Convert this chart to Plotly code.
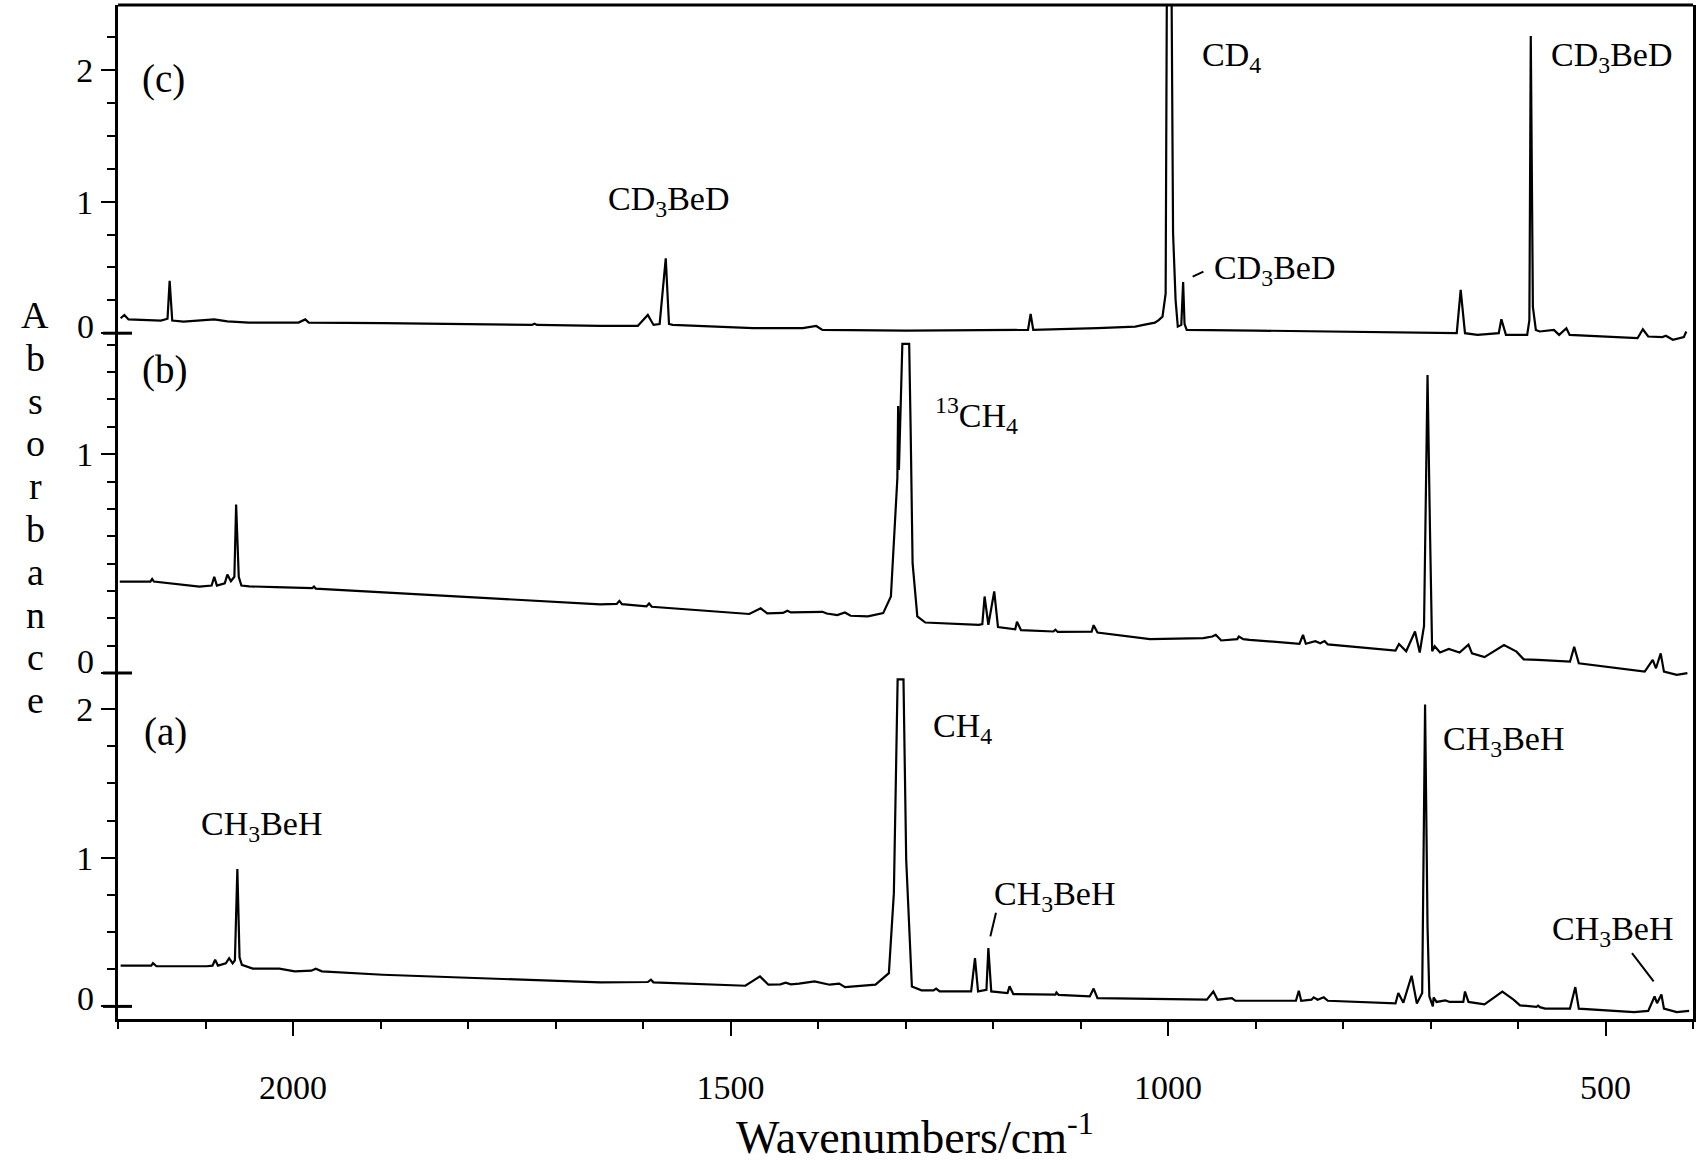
import plotly.graph_objects as go

# ---------------- data ----------------
# Spectrum (c)  CD3-containing sample
wn_c = [2197, 2192.7, 2188, 2151, 2143.4, 2141, 2138, 2125, 2090, 2075, 2050.5, 1993.7, 1986, 1982,
        1897.5, 1727, 1724, 1721, 1649, 1606, 1594.5, 1588, 1581, 1574, 1570.3, 1566, 1474, 1417.4,
        1402, 1395, 1299, 1185, 1160, 1157, 1154, 1080.6, 1037.4, 1028, 1015, 1010.6, 1006.3,
        1002.7, 1001.2, 996.1, 994.2, 991.3, 988.8, 984.8, 982.7, 981.1, 978.6, 900, 800, 695,
        670, 665.5, 660.6, 646.4, 622, 619, 613.8, 589.5, 587, 585.4, 583, 579.6, 575.2, 559, 553,
        544.7, 541, 463.4, 457.3, 451.2, 435, 431, 423, 410.5, 407.7]
abs_c = [0.114, 0.139, 0.105, 0.096, 0.11, 0.398, 0.096, 0.088, 0.105, 0.09, 0.081, 0.081, 0.105, 0.081,
         0.076, 0.063, 0.072, 0.063, 0.055, 0.055, 0.139, 0.063, 0.07, 0.57, 0.07, 0.063, 0.038, 0.038,
         0.055, 0.025, 0.02, 0.025, 0.025, 0.147, 0.025, 0.038, 0.05, 0.063, 0.08, 0.1, 0.126,
         0.3, 2.8, 2.8, 0.76, 0.25, 0.05, 0.063, 0.39, 0.07, 0.025, 0.02, 0.01, 0.0,
         0.0, 0.33, 0.0, -0.013, 0.0, 0.106, -0.013, -0.013, 0.1, 2.26, 0.2, 0.025, 0.013, 0.025, -0.013,
         0.038, -0.013, -0.038, 0.03, -0.025, -0.03, -0.02, -0.05, -0.03, 0.013]

# Spectrum (b)  13C sample
wn_b = [2198, 2163, 2161, 2159, 2107, 2093, 2090, 2087, 2078, 2075, 2071, 2067, 2065, 2062, 2059,
        2050, 2020, 1978, 1976, 1974, 1649, 1630, 1627, 1624, 1596, 1593, 1590, 1482, 1478.5, 1465.5,
        1458, 1440, 1435, 1431, 1400, 1395, 1390, 1377.9, 1369.3, 1362.7, 1343, 1325.5, 1316.7, 1312.3,
        1309.3, 1308.4, 1307.5, 1303.6, 1295.8, 1294.1, 1291.9, 1286.5, 1277.4, 1216.1, 1212.2, 1209.6,
        1205.3, 1198.6, 1194.3, 1174.6, 1172.6, 1168, 1131, 1128.7, 1126, 1087.3, 1085, 1080.6,
        1020.6, 959.6, 949.4, 945.4, 939.2, 920.9, 919, 914, 906.7, 849.7, 845.7, 842.5, 831.6, 826,
        821, 817.3, 740, 736, 727.8, 717.7, 712.3, 707.4, 703.4, 700.6, 698.1, 695.2, 689.1, 679.1,
        666.8, 656.6, 652.6, 638.3, 616, 601.7, 593.5, 577.3, 540.6, 535.8, 530.5, 455.2, 446, 442.3,
        436.9, 433.2, 418.6, 406.4]
abs_b = [0.418, 0.418, 0.43, 0.418, 0.395, 0.40, 0.44, 0.40, 0.41, 0.45, 0.42, 0.44, 0.77, 0.44, 0.40,
         0.396, 0.393, 0.388, 0.395, 0.386, 0.314, 0.316, 0.33, 0.315, 0.305, 0.318, 0.303, 0.272, 0.27, 0.296,
         0.273, 0.275, 0.285, 0.277, 0.277, 0.28, 0.272, 0.265, 0.277, 0.262, 0.259, 0.274, 0.35, 0.654,
         0.89, 1.22, 0.928, 1.504, 1.504, 1.11, 0.502, 0.259, 0.231, 0.22, 0.224, 0.35,
         0.22, 0.373, 0.21, 0.20, 0.235, 0.196, 0.19, 0.198, 0.188, 0.189, 0.219, 0.185,
         0.155, 0.16, 0.167, 0.175, 0.149, 0.155, 0.167, 0.155, 0.152, 0.134, 0.175, 0.134, 0.146, 0.136,
         0.146, 0.131, 0.103, 0.133, 0.1, 0.19, 0.094, 0.216, 1.362, 0.654, 0.1, 0.123, 0.094, 0.11,
         0.094, 0.13, 0.09, 0.073, 0.128, 0.098, 0.063, 0.06, 0.052, 0.12, 0.045, 0.007, 0.06, 0.022,
         0.09, 0.007, -0.008, 0.0]

# Spectrum (a)  12C / H sample
wn_a = [2197, 2162, 2160, 2156, 2098.6, 2092, 2089, 2085.7, 2076.8, 2073, 2069, 2066.4, 2063.6, 2061.1,
        2058.4, 2046, 2015.6, 1998, 1979, 1974, 1967, 1897.5, 1649, 1594.5, 1591, 1588, 1483, 1466.3,
        1456.7, 1443, 1437, 1431, 1421.7, 1404, 1386.8, 1375.8, 1369.1, 1334.3, 1319, 1313.3, 1309,
        1302.3, 1299.2, 1292.7, 1281.7, 1268, 1265, 1261, 1225, 1220.6, 1217.1, 1207.5, 1205.3, 1202,
        1183.4, 1181.1, 1176.8, 1128.7, 1127.5, 1125, 1089.4, 1085, 1080.6, 1020.6, 955.6, 948.2, 943.3,
        927, 923, 853.8, 850.5, 847.8, 836, 833.5, 829, 822, 817.3, 740, 736.8, 731, 721.6, 715.6, 709.5,
        706.2, 703.4, 701.3, 697.3, 696.5, 693.1, 683, 678, 662.5, 660.6, 656.6, 638.3, 617.9, 605.1,
        597.7, 579, 577, 575, 569, 540.6, 534.5, 530.5, 467.4, 451.2, 443.9, 441.1, 436.1, 433.2, 418.6,
        404.4]
abs_a = [0.274, 0.274, 0.291, 0.27, 0.27, 0.274, 0.314, 0.274, 0.29, 0.324, 0.29, 0.31, 0.924, 0.33,
         0.28, 0.254, 0.254, 0.236, 0.24, 0.254, 0.236, 0.213, 0.161, 0.164, 0.18, 0.162, 0.139, 0.202,
         0.146, 0.148, 0.16, 0.148, 0.153, 0.168, 0.146, 0.153, 0.13, 0.146, 0.224, 0.762, 2.2,
         2.2, 0.987, 0.134, 0.108, 0.108, 0.12, 0.101, 0.101, 0.325, 0.101, 0.112, 0.393, 0.101,
         0.09, 0.135, 0.083, 0.079, 0.094, 0.077, 0.067, 0.12, 0.056, 0.05, 0.045, 0.1, 0.045,
         0.056, 0.038, 0.038, 0.105, 0.038, 0.045, 0.061, 0.045, 0.061, 0.038, 0.02, 0.09, 0.025, 0.206, 0.02, 0.09,
         2.03, 0.538, 0.067, 0.0, 0.06, 0.03, 0.04, 0.03, 0.03, 0.1, 0.03, 0.014, 0.1, 0.045,
         0.007, -0.003, 0.005, -0.005, -0.015, -0.015, 0.13, -0.015, -0.038, -0.03, 0.067, 0.022, 0.08, -0.015, -0.038,
         -0.03]

x_tickvals = [2000, 1500, 1000, 500]
y_tickvals_c = [0, 1, 2]
y_tickvals_b = [0, 1]
y_tickvals_a = [0, 1, 2]

# peak labels: (text, wavenumber, absorbance at top of label)
labels_c = [("CD<sub>3</sub>BeD", 1642, 1.178), ("CD<sub>4</sub>", 963.4, 2.273),
            ("CD<sub>3</sub>BeD", 564.6, 2.273), ("CD<sub>3</sub>BeD", 949.7, 0.653)]
labels_b = [("<sup>13</sup>CH<sub>4</sub>", 1268.6, 1.292)]
labels_a = [("CH<sub>3</sub>BeH", 2107.4, 1.367), ("CH<sub>4</sub>", 1270.9, 2.026),
            ("CH<sub>3</sub>BeH", 1201.1, 0.896), ("CH<sub>3</sub>BeH", 688, 1.939),
            ("CH<sub>3</sub>BeH", 563.4, 0.661)]
# leader lines for labels: (panel, wn0, y0, wn1, y1)
leaders = [("c", 971.8, 0.43, 959.5, 0.468), ("a", 1196.6, 0.63, 1203, 0.471),
           ("a", 469.7, 0.359, 445, 0.168)]

panel_letters = ["(c)", "(b)", "(a)"]
ylabel_text = "Absorbance"
xlabel_text = "Wavenumbers/cm<sup>-1</sup>"

# ---------------- layout geometry (pixels) ----------------
W, H = 1708, 1163
L, R, T, B = 118, 1693, 5, 1019.3
FONT = "Liberation Serif"


def py2paper(py):
    return (B - py) / (B - T)


def px2paper(px):
    return (px - L) / (R - L)


# zero pixel, pixels per unit, top pixel, bottom pixel
geom = {
    "c": dict(zero=333.3, unit=131.5, top=T, bottom=350.0, ax="y3"),
    "b": dict(zero=673.3, unit=219.0, top=333.3, bottom=690.0, ax="y2"),
    "a": dict(zero=1006.7, unit=148.7, top=673.3, bottom=B, ax="y"),
}

fig = go.Figure()
for key, xs, ys in (("c", wn_c, abs_c), ("b", wn_b, abs_b), ("a", wn_a, abs_a)):
    fig.add_trace(go.Scatter(x=xs, y=ys, xaxis="x", yaxis=geom[key]["ax"], mode="lines",
                             line=dict(color="black", width=2.2), hoverinfo="skip",
                             showlegend=False))


def yaxis_for(key, tickvals, minor_dtick):
    g = geom[key]
    rng = [(g["zero"] - g["bottom"]) / g["unit"], (g["zero"] - g["top"]) / g["unit"]]
    dom = [py2paper(g["bottom"]), py2paper(g["top"])]
    # the zero label is drawn separately (raised above the crossing tick)
    return dict(domain=dom, range=rng, anchor="x", showline=True, linewidth=3,
                linecolor="black", mirror=True, ticks="outside", ticklen=14, tickwidth=2,
                tickcolor="black", tickvals=tickvals,
                ticktext=["" if v == 0 else str(v) for v in tickvals],
                tickfont=dict(family=FONT, size=34, color="black"), ticklabelstandoff=1,
                showgrid=False, zeroline=False, fixedrange=True,
                minor=dict(dtick=minor_dtick, tick0=0, ticks="outside", ticklen=8,
                           tickwidth=2, tickcolor="black", showgrid=False))


fig.update_layout(
    width=W, height=H,
    margin=dict(l=L, r=W - R, t=T, b=H - B),
    paper_bgcolor="white", plot_bgcolor="rgba(0,0,0,0)",
    showlegend=False,
    xaxis=dict(domain=[0, 1], range=[2200, 400], anchor="y", showline=True, linewidth=3,
               linecolor="black", ticks="outside", ticklen=14, tickwidth=2, tickcolor="black",
               tickvals=x_tickvals, ticktext=[str(v) for v in x_tickvals],
               tickfont=dict(family=FONT, size=34, color="black"), ticklabelstandoff=22,
               showgrid=False, zeroline=False, fixedrange=True,
               minor=dict(dtick=100, tick0=0, ticks="outside", ticklen=7, tickwidth=2,
                          tickcolor="black", showgrid=False)),
    yaxis=yaxis_for("a", y_tickvals_a, 0.25),
    yaxis2=yaxis_for("b", y_tickvals_b, 0.125),
    yaxis3=yaxis_for("c", y_tickvals_c, 0.25),
)

shapes = []
# top border
shapes.append(dict(type="line", xref="paper", yref="paper", x0=0, x1=1, y0=1, y1=1,
                   line=dict(color="black", width=3)))
# crossing zero ticks of each panel
for key in ("c", "b", "a"):
    shapes.append(dict(type="line", xref="paper", yref=geom[key]["ax"],
                       x0=px2paper(103), x1=px2paper(132), y0=0, y1=0,
                       line=dict(color="black", width=3)))
# label leader lines
for key, x0, y0, x1, y1 in leaders:
    shapes.append(dict(type="line", xref="x", yref=geom[key]["ax"], x0=x0, y0=y0, x1=x1, y1=y1,
                       line=dict(color="black", width=2)))
fig.update_layout(shapes=shapes)

ann = []
for key, lst in (("c", labels_c), ("b", labels_b), ("a", labels_a)):
    for text, x, y in lst:
        ann.append(dict(text=text, x=x, y=y, xref="x", yref=geom[key]["ax"],
                        xanchor="left", yanchor="top", showarrow=False,
                        font=dict(family=FONT, size=34, color="black")))
# zero labels, raised a little above each panel's crossing tick
for key, lift in (("c", 7), ("b", 12), ("a", 8)):
    ann.append(dict(text="0", x=px2paper(96), y=0, xref="paper", yref=geom[key]["ax"],
                    xanchor="right", yanchor="middle", yshift=lift, showarrow=False,
                    font=dict(family=FONT, size=34, color="black")))
# panel letters
for text, (lx, ly) in zip(panel_letters, [(140, 79), (140, 370), (142, 732)]):
    ann.append(dict(text=text, x=px2paper(lx), y=py2paper(ly), xref="paper", yref="paper",
                    xanchor="left", yanchor="middle", showarrow=False,
                    font=dict(family=FONT, size=39, color="black")))
# vertical stacked y-axis title
for i, ch in enumerate(ylabel_text):
    baseline = 328 + 42.8 * i
    ann.append(dict(text=ch, x=px2paper(35), y=py2paper(baseline - 12.8), xref="paper",
                    yref="paper", xanchor="center", yanchor="middle", showarrow=False,
                    font=dict(family=FONT, size=38, color="black")))
# x-axis title
ann.append(dict(text=xlabel_text, x=px2paper(915), y=py2paper(1165), xref="paper",
                yref="paper", xanchor="center", yanchor="bottom", showarrow=False,
                font=dict(family=FONT, size=46, color="black")))
fig.update_layout(annotations=ann)

fig.write_html("out.html", config={"displayModeBar": False},
               post_script="document.body.style.margin='0px';"
                           "document.body.style.overflow='hidden';")
